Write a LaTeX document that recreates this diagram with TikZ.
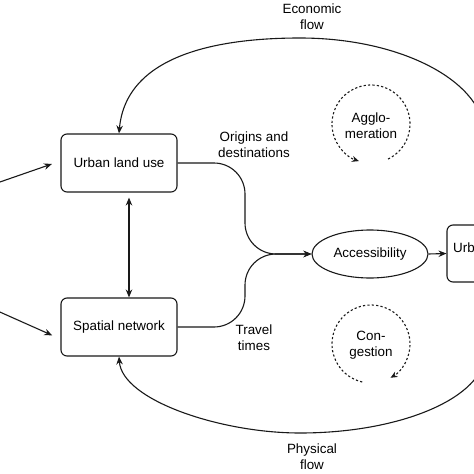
\documentclass[tikz,border=0pt]{standalone}
\usepackage{fontspec}
\setmainfont{Liberation Sans}
\usetikzlibrary{shapes.geometric,arrows.meta,calc}
\begin{document}
\begin{tikzpicture}[x=1pt,y=1pt,
  every node/.style={font=\fontsize{13.4}{16}\selectfont, text=black},
  ln/.style={line width=1.1pt, draw=black!90},
  arr/.style={ln, -{Stealth[length=8pt,width=6.5pt]}},
  darr/.style={ln, {Stealth[length=8pt,width=6.5pt]}-{Stealth[length=8pt,width=6.5pt]}},
  loop/.style={line width=1.1pt, draw=black!90, dash pattern=on 2.2pt off 2.2pt, -{Stealth[length=7pt,width=6pt]}},
  boxnode/.style={ln, rounded corners=6pt, minimum width=116pt, minimum height=58pt, inner sep=0pt},
  ellnode/.style={ln, ellipse, minimum width=116pt, minimum height=48pt, inner sep=0pt},
  lbl/.style={align=center, inner sep=0pt}
]
\useasboundingbox (0,0) rectangle (474,-474);
\clip (0,0) rectangle (474,-474);

% nodes
\node[boxnode] (ulu) at (119,-163) {Urban land use};
\node[boxnode] (spl) at (119,-327) {Spatial network};
\node[ellnode] (acc) at (370,-254) {Accessibility};
\node[boxnode, minimum height=57pt] (urb) at (505,-253.5) {};
\node[anchor=base west, inner sep=0pt] (urbt) at (453,-252) {Urban};

% labels
\node[lbl] (econ) at (312,-16.5) {Economic\\flow};
\node[lbl] (orig) at (254,-145) {Origins and\\destinations};
\node[lbl] (trav) at (254,-337.5) {Travel\\times};
\node[lbl] (phys) at (312,-457) {Physical\\flow};
\node[lbl] (agg) at (371,-125.5) {Agglo-\\meration};
\node[lbl] (con) at (371,-345.5) {Con-\\gestion};

% incoming arrows from the left
\coordinate (inA) at (-26,-191);
\coordinate (inB) at (-26,-300.5);
\draw[arr, shorten >=9pt] (inA) -- ([yshift=2pt]ulu.west);
\draw[arr, shorten >=9pt] (inB) -- ([yshift=-12pt]spl.west);

% land use <-> network
\draw[darr, shorten <=5pt] ([xshift=10pt]ulu.south) -- ([xshift=10pt]spl.north);

% to accessibility
\coordinate (m1) at (245,-254);
\draw[arr, rounded corners=31pt] (ulu.east) -| (m1) -- (acc.west);
\draw[arr, rounded corners=31pt] (spl.east) -| (m1) -- (acc.west);

% accessibility -> urban
\draw[arr] (acc.east) -- (urb.west);

% economic flow
\coordinate (eR) at (485,-225);
\draw[arr] (eR) -- (485,-136) .. controls (485,-82) and (402,-38) .. (300,-38)
  .. controls (220,-38) and (126,-54) .. (ulu.north);

% physical flow
\coordinate (pR) at (485,-282);
\draw[arr] (pR) -- (485,-353) .. controls (485,-397) and (402,-433) .. (300,-433)
  .. controls (220,-433) and (122,-400) .. (spl.south);

% feedback loops
\draw[loop] ([shift={(-64:39)}]371,-124) arc[start angle=-64, end angle=252, radius=39];
\draw[loop] ([shift={(257:39)}]371,-344) arc[start angle=257, end angle=-60, radius=39];
\end{tikzpicture}
\end{document}
